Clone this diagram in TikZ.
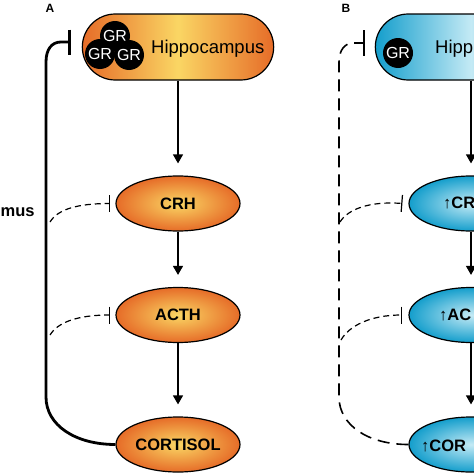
\documentclass[tikz,border=0pt]{standalone}
\usepackage{fontspec}
\setmainfont{Liberation Sans}
\usetikzlibrary{shapes.misc,shapes.geometric,arrows.meta}
\definecolor{hpaorange}{RGB}{230,108,40}
\definecolor{hpayellow}{RGB}{250,214,100}
\definecolor{hpablue}{RGB}{20,158,204}
\definecolor{hpalight}{RGB}{196,234,245}
\begin{document}
\begin{tikzpicture}[x=1pt,y=-1pt,
    node distance=293pt,
    orangeregion/.style={rounded rectangle,draw=black,line width=1.2pt,minimum width=198pt,minimum height=66pt,left color=hpaorange,right color=hpaorange,middle color=hpayellow},
    blueregion/.style={rounded rectangle,draw=black,line width=1.2pt,minimum width=198pt,minimum height=66pt,left color=hpablue,right color=hpablue,middle color=hpalight},
    orangehormone/.style={ellipse,draw=black,line width=1.2pt,minimum width=124pt,minimum height=55pt,inner sep=0pt,inner color=hpayellow,outer color=hpaorange,font=\bfseries\fontsize{16.5}{18}\selectfont},
    bluehormone/.style={ellipse,draw=black,line width=1.2pt,minimum width=124pt,minimum height=55pt,inner sep=0pt,inner color=hpalight,outer color=hpablue},
    receptor/.style={circle,fill=black,minimum size=30pt,inner sep=0pt,text=white,font=\fontsize{16}{18}\selectfont},
    regionlabel/.style={anchor=base west,inner sep=0pt,font=\fontsize{18.5}{20}\selectfont},
    uplabel/.style={anchor=base west,inner sep=0pt,font=\bfseries\fontsize{16.5}{18}\selectfont},
    panel/.style={inner sep=0pt,font=\bfseries\fontsize{12}{13}\selectfont},
    flow/.style={-{Triangle[width=10pt,length=9pt]},line width=1.3pt,shorten >=12pt},
    feedback/.style={-{Bar[width=25pt]},line width=2.8pt},
    feedbackoff/.style={-{Bar[width=26pt]},line width=1.6pt,dash pattern=on 12pt off 7pt},
    inhibit/.style={-{Bar[width=17pt]},line width=1.2pt,dash pattern=on 6pt off 4pt}]
    \useasboundingbox (0,0) rectangle (474,474);
    \clip (0,0) rectangle (474,474);
    % panel A
    \node[panel] (panela) at (50,8.5) {A};
    \node[anchor=base west,inner sep=0pt,font=\bfseries\fontsize{16.5}{18}\selectfont] (hypothalamus) at (0.5,216) {mus};
    \node[orangeregion] (hippocampus) at (178,47) {};
    \node[receptor] (gra) at (115,36) {GR};
    \node[receptor] (grb) at (100,54) {GR};
    \node[receptor] (grc) at (129,55) {GR};
    \node[regionlabel] (hippocampuslabel) at (151,53) {Hippocampus};
    \node[orangehormone, below of=hippocampus, node distance=156.5pt] (crh) {CRH};
    \node[orangehormone, below of=crh, node distance=111.5pt] (acth) {ACTH};
    \node[orangehormone, below of=acth, node distance=129.5pt] (cortisol) {CORTISOL};
    \path[flow] (hippocampus) edge (crh);
    \path[flow] (crh) edge (acth);
    \path[flow] (acth) edge (cortisol);
    \draw[feedback] (cortisol.west) .. controls (75,444.5) and (46,425) .. (46,397) -- (46,62) .. controls (46,49) and (52,42) .. (61,42) -- ([xshift=-11pt,yshift=5pt]hippocampus.west);
    \coordinate (crhfeedback) at (50,222);
    \coordinate (acthfeedback) at (50,335);
    \draw[inhibit] (crhfeedback) .. controls (58,209) and (78,203.5) .. ([xshift=-5pt]crh.west);
    \draw[inhibit] (acthfeedback) .. controls (58,322) and (78,315) .. ([xshift=-5pt]acth.west);
    % panel B
    \node[panel] (panelb) at (346,8) {B};
    \node[blueregion, right of=hippocampus] (hippocampusb) {};
    \node[receptor] (grd) at (398,53) {GR};
    \node[regionlabel] (hippocampusblabel) at (435,53) {Hipp};
    \node[bluehormone, right of=crh] (crhb) {};
    \node[bluehormone, right of=acth] (acthb) {};
    \node[bluehormone, right of=cortisol] (cortisolb) {};
    \node[uplabel] (crhblabel) at (443,208.5) {{\mdseries ↑}CR};
    \node[uplabel] (acthblabel) at (439,320.5) {{\mdseries ↑}AC};
    \node[uplabel] (cortisolblabel) at (421,451) {{\mdseries ↑}COR};
    \path[flow] (hippocampusb) edge (crhb);
    \path[flow] (crhb) edge (acthb);
    \path[flow] (acthb) edge (cortisolb);
    \draw[feedbackoff] (cortisolb.west) .. controls (368,444.5) and (339,425) .. (339,397) -- (339,62) .. controls (339,50) and (345,43) .. (353,43) -- ([xshift=-10pt,yshift=4pt]hippocampusb.west);
    \coordinate (crhbfeedback) at (340,222);
    \coordinate (acthbfeedback) at (341,340);
    \draw[inhibit] (crhbfeedback) .. controls (348,209) and (370,201) .. ([xshift=-6pt]crhb.west);
    \draw[inhibit] (acthbfeedback) .. controls (349,326) and (370,315) .. ([xshift=-6pt]acthb.west);
\end{tikzpicture}
\end{document}
